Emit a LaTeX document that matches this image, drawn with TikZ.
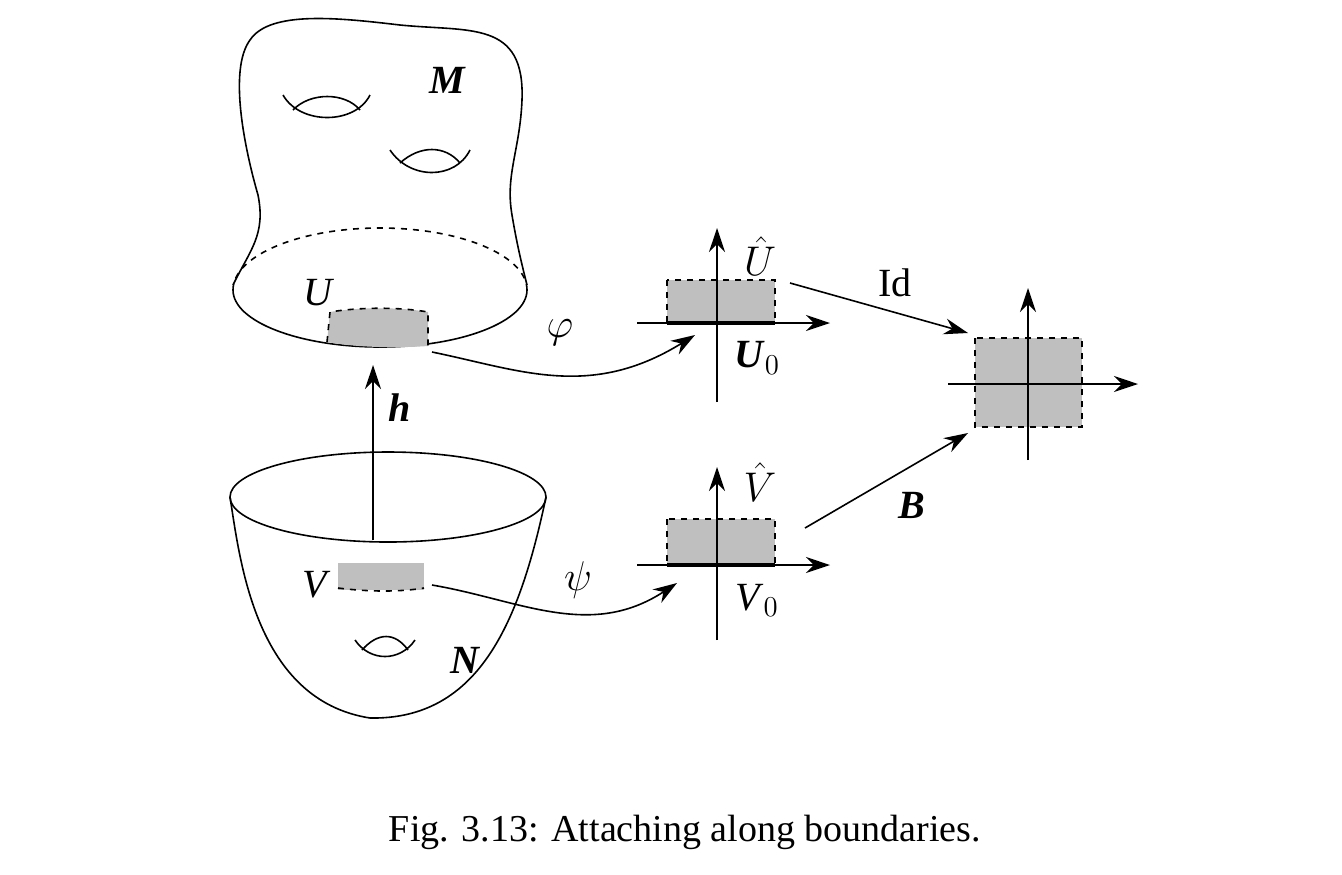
\documentclass[tikz,border=0pt]{standalone}
\usepackage{fontspec}
\setmainfont{Liberation Serif}
\usetikzlibrary{arrows.meta}
\begin{document}
\begin{tikzpicture}[x=0.5pt,y=-0.5pt,line width=0.8pt,
  arr/.style={-{Stealth[length=12pt,width=8pt]}},
  lab/.style={font=\fontsize{17}{20}\selectfont},
  patch/.style={fill=black!25,draw=black,dashed},
  gray/.style={fill=black!25,draw=none}]
\useasboundingbox (0,0) rectangle (1342,874);
% M surface
\draw (233,285) .. controls (250,250) and (266,235) .. (258,195)
  .. controls (245,150) and (228,70) .. (250,40)
  .. controls (270,10) and (340,18) .. (400,25)
  .. controls (470,32) and (525,20) .. (522,100)
  .. controls (520,150) and (505,175) .. (512,215)
  .. controls (517,245) and (522,265) .. (527,285);
\draw[dashed] (233,290) arc[start angle=180,end angle=360,x radius=147,y radius=62];
\draw (233,290) arc[start angle=180,end angle=0,x radius=147,y radius=57];
\draw (283,95) .. controls (300,125) and (355,125) .. (370,95);
\draw (293,110) .. controls (310,92) and (345,92) .. (360,110);
\draw (390,150) .. controls (410,180) and (455,180) .. (470,150);
\draw (400,163) .. controls (420,145) and (445,145) .. (460,163);
\path[gray] (330,312) .. controls (360,307) and (400,307) .. (428,312) -- (428,346) .. controls (400,348) and (360,348) .. (327,342) -- cycle;
\draw[dashed] (327,342) -- (330,312) .. controls (360,307) and (400,307) .. (428,312) -- (428,346);
\node[lab,font=\fontsize{20}{24}\selectfont\bfseries\itshape] (M) at (447,80) {M};
\node[lab,font=\fontsize{20}{24}\selectfont\itshape] (U) at (318,293) {U};
% h
\coordinate (h1) at (373,540); \coordinate (h2) at (373,365);
\draw[arr] (h1) -- (h2);
\node[lab,font=\fontsize{20}{24}\selectfont\bfseries\itshape] (h) at (400,408) {h};
% N bowl
\draw (388,497) ellipse[x radius=158,y radius=45];
\draw (230,497) .. controls (240,560) and (255,700) .. (370,718)
  .. controls (480,720) and (520,620) .. (546,497);
\draw[gray] (338,563) -- (424,563) -- (424,590) -- (338,590) -- cycle;
\draw[dashed] (338,588) .. controls (370,592) and (400,592) .. (424,588);
\draw (355,640) .. controls (370,662) and (400,662) .. (415,640);
\draw (362,650) .. controls (378,632) and (395,632) .. (408,650);
\node[lab,font=\fontsize{20}{24}\selectfont\itshape] (V) at (315,585) {V};
\node[lab,font=\fontsize{20}{24}\selectfont\bfseries\itshape] (N) at (465,660) {N};
% top axes
\draw[patch] (667,280) rectangle (775,323);
\draw[line width=2pt] (667,323) -- (775,323);
\coordinate (ta1) at (717,402); \coordinate (ta2) at (717,228);
\coordinate (th1) at (637,323); \coordinate (th2) at (830,323);
\draw[arr] (ta1) -- (ta2); \draw[arr] (th1) -- (th2);
\node[lab,font=\fontsize{20}{24}\selectfont] (Uh) at (760,256) {$\hat{U}$};
\node[lab,font=\fontsize{20}{24}\selectfont\bfseries\itshape] (U0) at (757,358) {U\textup{\fontseries{m}\selectfont$_0$}};
% bottom axes
\draw[patch] (667,519) rectangle (775,565);
\draw[line width=2pt] (667,565) -- (775,565);
\coordinate (ba1) at (717,640); \coordinate (ba2) at (717,467);
\coordinate (bh1) at (637,565); \coordinate (bh2) at (830,565);
\draw[arr] (ba1) -- (ba2); \draw[arr] (bh1) -- (bh2);
\node[lab,font=\fontsize{20}{24}\selectfont] (Vh) at (760,482) {$\hat{V}$};
\node[lab,font=\fontsize{20}{24}\selectfont\itshape] (V0) at (757,600) {V\textup{$_0$}};
% right axes
\draw[patch] (975,338) rectangle (1082,427);
\coordinate (ra1) at (1028,460); \coordinate (ra2) at (1028,288);
\coordinate (rh1) at (948,384); \coordinate (rh2) at (1138,384);
\draw[arr] (ra1) -- (ra2); \draw[arr] (rh1) -- (rh2);
% maps
\coordinate (p1) at (432,352); \coordinate (p2) at (695,335);
\draw[arr] (p1) .. controls (520,370) and (590,400) .. (p2);
\node[lab,font=\fontsize{20}{24}\selectfont\itshape] (phi) at (560,333) {$\varphi$};
\coordinate (s1) at (432,585); \coordinate (s2) at (677,583);
\draw[arr] (s1) .. controls (520,600) and (590,640) .. (s2);
\node[lab,font=\fontsize{20}{24}\selectfont\itshape] (psi) at (578,580) {$\psi$};
\coordinate (i1) at (790,283); \coordinate (i2) at (968,333);
\draw[arr] (i1) -- (i2);
\node[lab,font=\fontsize{20}{24}\selectfont] (Id) at (895,283) {Id};
\coordinate (b1) at (805,528); \coordinate (b2) at (968,433);
\draw[arr] (b1) -- (b2);
\node[lab,font=\fontsize{20}{24}\selectfont\bfseries\itshape] (B) at (912,505) {B};
\node[font=\fontsize{19}{22}\selectfont] (cap) at (685,832) {Fig. 3.13: Attaching along boundaries.};
\end{tikzpicture}
\end{document}
